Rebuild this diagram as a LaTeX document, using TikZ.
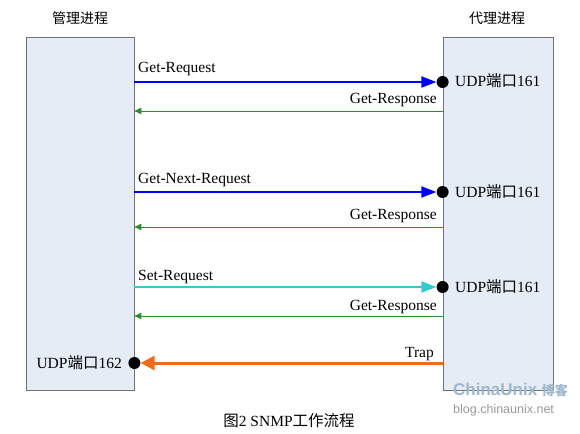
\documentclass[tikz,border=0pt]{standalone}
\usepackage{fontspec}
\setmainfont{Liberation Serif}
\setsansfont{Liberation Sans}
\newfontfamily\cjk{Noto Sans CJK SC}
\usetikzlibrary{arrows.meta}
\definecolor{boxblue}{HTML}{E5ECF6}
\definecolor{respgreen}{HTML}{2E8B2E}
\definecolor{setcyan}{HTML}{33CCCC}
\definecolor{trapor}{HTML}{F26B1D}
\definecolor{wmblue}{HTML}{9FB6CF}

\begin{document}
\begin{tikzpicture}[
    x=1pt, y=-1pt,
    proc/.style={draw=gray!90!black, fill=boxblue, line width=0.8pt,
                 minimum height=353pt, inner sep=0pt},
    port/.style={circle, fill=black, inner sep=0pt, minimum size=12pt},
    req/.style={line width=1.8pt, -{Triangle[length=15pt, width=11pt]}},
    resp/.style={respgreen, line width=0.9pt, -{Triangle[length=7pt, width=6.5pt]}},
    lbl/.style={font=\fontsize{15.5}{15.5}\selectfont, inner sep=0pt},
    ttl/.style={font=\fontsize{14}{14}\selectfont\cjk, inner sep=0pt}
]
\useasboundingbox (0,0) rectangle (580,433);

% ---------- processes ----------
\node[proc, minimum width=108pt] (mgr)   at (80,213.5)  {};
\node[proc, minimum width=110pt] (agent) at (498,213.5) {};
\node[ttl] (mgrtitle)   at (80,18)  {管理进程};
\node[ttl] (agenttitle) at (497,18) {代理进程};

% ---------- ports ----------
\node[port] (p1) at (agent.west |- 0,82)  {};
\node[port] (p2) at (agent.west |- 0,192) {};
\node[port] (p3) at (agent.west |- 0,287) {};
\node[port] (p4) at (mgr.east |- 0,363)   {};
\foreach \n/\y in {p1/87, p2/197, p3/292}
  \node[lbl, anchor=base west] (\n lbl) at (455,\y) {UDP{\cjk 端口}161};
\node[lbl, anchor=base east] (p4lbl) at (122,368) {UDP{\cjk 端口}162};

% ---------- requests ----------
\draw[req, blue]    (mgr.east |- p1) -- (p1.west);
\draw[req, blue]    (mgr.east |- p2) -- (p2.west);
\draw[req, setcyan] (mgr.east |- p3) -- (p3.west);
\node[lbl, anchor=base west] (getreq)  at (138,73)  {Get-Request};
\node[lbl, anchor=base west] (nextreq) at (138,183) {Get-Next-Request};
\node[lbl, anchor=base west] (setreq)  at (138,280) {Set-Request};

% ---------- responses ----------
\foreach \y in {111,227,316}
  \draw[resp] (agent.west |- 0,\y) -- (mgr.east |- 0,\y);
\foreach \y in {103,219,310}
  \node[lbl, anchor=base east] at (437,\y) {Get-Response};

% ---------- trap ----------
\draw[trapor, line width=3pt, -{Triangle[length=14pt, width=14pt]}]
  (agent.west |- p4) -- (p4.east);
\node[lbl, anchor=base east] (traplbl) at (434,357) {Trap};

% ---------- caption ----------
\node[lbl, anchor=base] (caption) at (289,426) {{\cjk 图}2 SNMP{\cjk 工作流程}};

% ---------- watermark ----------
\node[wmblue, font=\sffamily\bfseries\fontsize{17}{17}\selectfont, inner sep=0pt,
      anchor=base west] (wm1) at (453,395) {ChinaUnix {\cjk\fontsize{13}{13}\selectfont 博客}};
\node[gray!80, font=\sffamily\fontsize{12.5}{12.5}\selectfont, inner sep=0pt,
      anchor=base west] (wm2) at (453,413) {blog.chinaunix.net};
\end{tikzpicture}
\end{document}
